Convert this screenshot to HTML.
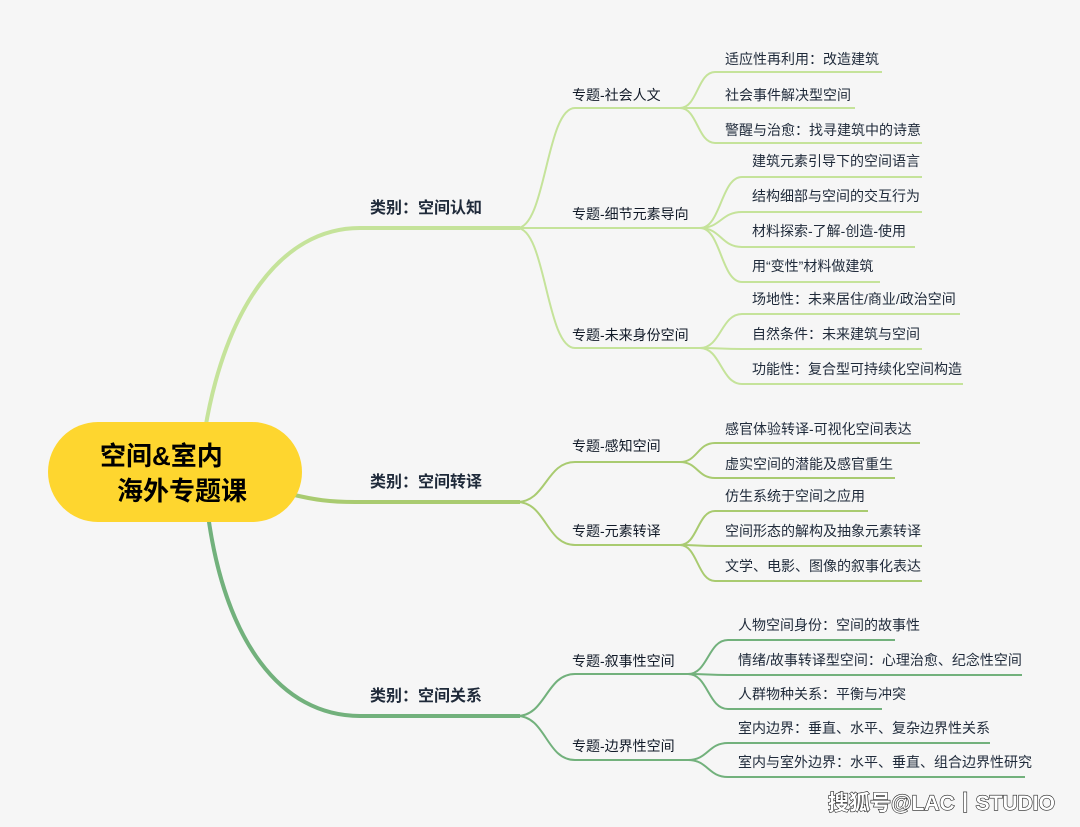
<!DOCTYPE html>
<html><head><meta charset="utf-8"><style>
html,body{margin:0;padding:0;background:#f6f6f6}
svg{display:block}
text{font-family:"Liberation Sans","Noto Sans CJK SC",sans-serif;fill:#1f2a3a}
</style></head><body>
<svg id="s" width="1080" height="827" viewBox="0 0 1080 827" xmlns="http://www.w3.org/2000/svg">
<rect width="1080" height="827" fill="#f6f6f6"/>
<path d="M205 430 C225 310 280 228 360 228 L520 228" fill="none" stroke="#c5e39a" stroke-width="4"/>
<path d="M290 494 C315 500 330 502 355 502 L520 502" fill="none" stroke="#a9cb70" stroke-width="4"/>
<path d="M208 515 C225 640 280 716 360 716 L520 716" fill="none" stroke="#72b17c" stroke-width="4"/>
<g id="g"></g>
<rect x="48" y="422" width="254" height="100" rx="50" fill="#fed62f"/>
<text x="100" y="465" font-size="26" font-weight="bold" style="fill:#000">空间&amp;室内</text>
<text x="117" y="500" font-size="26" font-weight="bold" style="fill:#000">海外专题课</text>
<text x="370" y="213" font-size="16" font-weight="bold">类别：空间认知</text>
<text x="370" y="487" font-size="16" font-weight="bold">类别：空间转译</text>
<text x="370" y="701" font-size="16" font-weight="bold">类别：空间关系</text>
<text x="828" y="810" font-size="21" font-weight="bold" style="fill:#fff;stroke:#222;stroke-width:1.2;paint-order:stroke">搜狐号@LAC丨STUDIO</text>
</svg>
<script>
var g=document.getElementById('g'),s='';
function br(fx,fy,ty,sx,ex,col,w){var m=(fx+sx)/2;s+='<path d="M'+fx+' '+fy+' C'+m+' '+fy+' '+m+' '+ty+' '+sx+' '+ty+' L'+ex+' '+ty+'" fill="none" stroke="'+col+'" stroke-width="'+w+'"/>';}
function tx(x,y,t,b){s+='<text x="'+x+'" y="'+y+'" font-size="14"'+(b?' style="fill:#111a28"':'')+'>'+t+'</text>';}
var A='#c5e39a',B='#a9cb70',C='#72b17c';
br(517,228,108,575,685,A,2);tx(572,100,'专题-社会人文',1);
br(517,228,228,575,705,A,2);tx(572,219,'专题-细节元素导向',1);
br(517,228,348,575,705,A,2);tx(572,340,'专题-未来身份空间',1);
[[72,882,'适应性再利用：改造建筑'],[108,855,'社会事件解决型空间'],[143,922,'警醒与治愈：找寻建筑中的诗意']].forEach(function(l){br(680,108,l[0],715,l[1],A,2);tx(725,l[0]-8,l[2]);});
[[177,922,'建筑元素引导下的空间语言'],[212,922,'结构细部与空间的交互行为'],[247,915,'材料探索-了解-创造-使用'],[282,880,'用“变性”材料做建筑']].forEach(function(l){br(700,228,l[0],742,l[1],A,2);tx(752,l[0]-11,l[2]);});
[[314,960,'场地性：未来居住/商业/政治空间'],[349,922,'自然条件：未来建筑与空间'],[384,963,'功能性：复合型可持续化空间构造']].forEach(function(l){br(700,348,l[0],742,l[1],A,2);tx(752,l[0]-10,l[2]);});
br(517,502,462,575,685,B,2);tx(572,451,'专题-感知空间',1);
br(517,502,545,575,685,B,2);tx(572,536,'专题-元素转译',1);
[[443,920,'感官体验转译-可视化空间表达'],[478,895,'虚实空间的潜能及感官重生']].forEach(function(l){br(680,462,l[0],715,l[1],B,2);tx(725,l[0]-9,l[2]);});
[[511,868,'仿生系统于空间之应用'],[546,922,'空间形态的解构及抽象元素转译'],[581,922,'文学、电影、图像的叙事化表达']].forEach(function(l){br(680,545,l[0],715,l[1],B,2);tx(725,l[0]-10,l[2]);});
br(517,716,674,575,690,C,2);tx(572,666,'专题-叙事性空间',1);
br(517,716,760,575,690,C,2);tx(572,751,'专题-边界性空间',1);
[[640,895,'人物空间身份：空间的故事性'],[675,1022,'情绪/故事转译型空间：心理治愈、纪念性空间'],[709,882,'人群物种关系：平衡与冲突']].forEach(function(l){br(688,674,l[0],728,l[1],C,2);tx(738,l[0]-10,l[2]);});
[[743,990,'室内边界：垂直、水平、复杂边界性关系'],[777,1025,'室内与室外边界：水平、垂直、组合边界性研究']].forEach(function(l){br(688,760,l[0],728,l[1],C,2);tx(738,l[0]-10,l[2]);});
g.innerHTML=s;
</script>
</body></html>
